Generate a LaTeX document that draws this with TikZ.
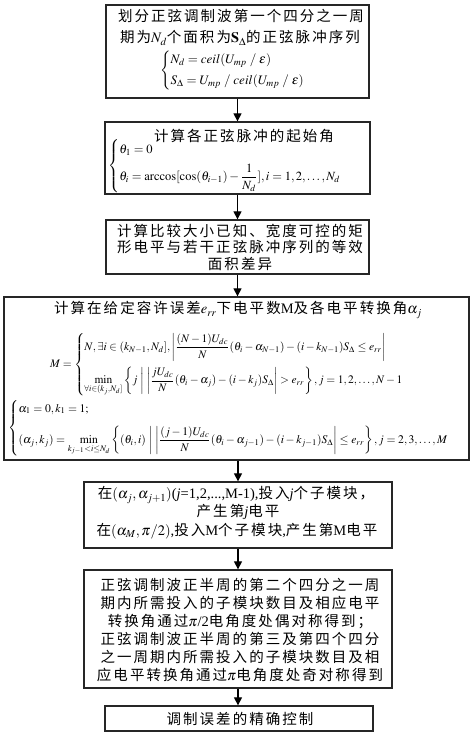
\documentclass[tikz,border=0pt]{standalone}
\usepackage{amsmath}
\usepackage{mathptmx}
\usepackage{fontspec}
\setmainfont{Liberation Serif}
\newfontfamily\cjk[LetterSpace=14]{Noto Sans CJK SC}
\usetikzlibrary{arrows.meta}
\tikzset{
  box/.style={draw=black!85, line width=1.3pt, rectangle, inner sep=0pt},
  txt/.style={inner sep=0pt, font=\fontsize{14.5}{16}\selectfont},
  conn/.style={draw=black, line width=1.2pt, -{Triangle[length=8pt,width=8pt]}}
}
\begin{document}
\begin{tikzpicture}[x=1pt,y=-1pt]
\useasboundingbox (0,0) rectangle (474,734);
% boxes
\node[box, minimum width=263pt, minimum height=93pt] (b1) at (237.5,51.5) {};
\node[box, minimum width=265pt, minimum height=72pt] (b2) at (237.5,158) {};
\node[box, minimum width=263pt, minimum height=54pt] (b3) at (237.5,247) {};
\node[box, minimum width=465pt, minimum height=163pt] (b4) at (236.5,378.5) {};
\node[box, minimum width=308pt, minimum height=66pt] (b5) at (238,515) {};
\node[box, minimum width=308pt, minimum height=118pt] (b6) at (238,629) {};
\node[box, minimum width=268pt, minimum height=25pt] (b7) at (239,718.5) {};
% box 1
\node[txt] (t1a) at (241,16) {\cjk 划分正弦调制波第一个四分之一周};
\node[txt] (t1b) at (240,38) {{\cjk 期为}$N_d${\cjk 个面积为}$\mathbf{S}_{\Delta}${\cjk 的正弦脉冲序列}};
\node[inner sep=0pt, anchor=west] (f1) at (160,70) {\resizebox{158pt}{!}{$\begin{cases} N_d = ceil(U_{mp}\;/\;\varepsilon)\\[2pt] S_{\Delta} = U_{mp}\;/\;ceil(U_{mp}\;/\;\varepsilon)\end{cases}$}};
% box 2
\node[txt] (t2a) at (244,136) {\cjk 计算各正弦脉冲的起始角};
\node[inner sep=0pt, anchor=west] (f2) at (108,166) {\resizebox{246pt}{!}{$\begin{cases} \theta_1 = 0\\[4pt] \theta_i = \mathrm{arccos}[\cos(\theta_{i-1})-\dfrac{1}{N_d}], i=1,2,\dots,N_d\end{cases}$}};
% box 3
\node[txt, align=center] (t3a) at (240,247) {\cjk 计算比较大小已知、宽度可控的矩\\[0.5pt]\cjk 形电平与若干正弦脉冲序列的等效\\[0.5pt]\cjk 面积差异};
% box 4
\node[txt] (t4a) at (238,310) {{\cjk 计算在给定容许误差}$e_{rr}${\cjk 下电平数}M{\cjk 及各电平转换角}$\alpha_j$};
\node[inner sep=0pt, anchor=west] (f4a) at (50,365) {\resizebox{365pt}{!}{$M=\begin{cases} N, \exists i\in(k_{N-1},N_d], \left|\dfrac{(N-1)U_{dc}}{N}(\theta_i-\alpha_{N-1})-(i-k_{N-1})S_{\Delta}\le e_{rr}\right|\\[10pt] \min\limits_{\forall i\in(k_j,N_d]}\left\{ j\;\middle|\;\left|\dfrac{jU_{dc}}{N}(\theta_i-\alpha_j)-(i-k_j)S_{\Delta}\right|>e_{rr}\right\}, j=1,2,\dots,N-1\end{cases}$}};
\node[inner sep=0pt, anchor=west] (f4b) at (8,428) {\resizebox{452pt}{!}{$\begin{cases} \alpha_1=0,k_1=1;\\[8pt] (\alpha_j,k_j)=\min\limits_{k_{j-1}<i\le N_d}\left\{(\theta_i,i)\;\middle|\;\left|\dfrac{(j-1)U_{dc}}{N}(\theta_i-\alpha_{j-1})-(i-k_{j-1})S_{\Delta}\right|\le e_{rr}\right\}, j=2,3,\dots,M\end{cases}$}};
% box 5
\node[txt] (t5a) at (236,495) {{\cjk 在}$(\alpha_j,\alpha_{j+1})$(\textit{j}=1,2,...,M-1),{\cjk 投入}\textit{j}{\cjk 个子模块，}};
\node[txt] (t5b) at (238,512) {{\cjk 产生第}\textit{j}{\cjk 电平}};
\node[txt] (t5c) at (237,531) {{\cjk 在}$(\alpha_M,\pi/2)$,{\cjk 投入}M{\cjk 个子模块},{\cjk 产生第}M{\cjk 电平}};
% box 6
\node[txt, align=center] (t6) at (240,630) {\cjk 正弦调制波正半周的第二个四分之一周\\[2pt]
 \cjk 期内所需投入的子模块数目及相应电平\\[2pt]
 {\cjk 转换角通过}$\pi$/2{\cjk 电角度处偶对称得到；}\\[2pt]
 \cjk 正弦调制波正半周的第三及第四个四分\\[2pt]
 \cjk 之一周期内所需投入的子模块数目及相\\[2pt]
 {\cjk 应电平转换角通过}$\pi${\cjk 电角度处奇对称得到}};
% box 7
\node[txt] (t7) at (240,718.5) {\cjk 调制误差的精确控制};
% connectors
\draw[conn] (b1.south) -- (b1.south |- b2.north);
\draw[conn] (b2.south) -- (b2.south |- b3.north);
\draw[conn] (b3.south) -- (b3.south |- b4.north);
\draw[conn] (b4.south -| b5.north) -- (b5.north);
\draw[conn] (b5.south) -- (b6.north);
\draw[conn] (b6.south) -- (b6.south |- b7.north);
\end{tikzpicture}
\end{document}
